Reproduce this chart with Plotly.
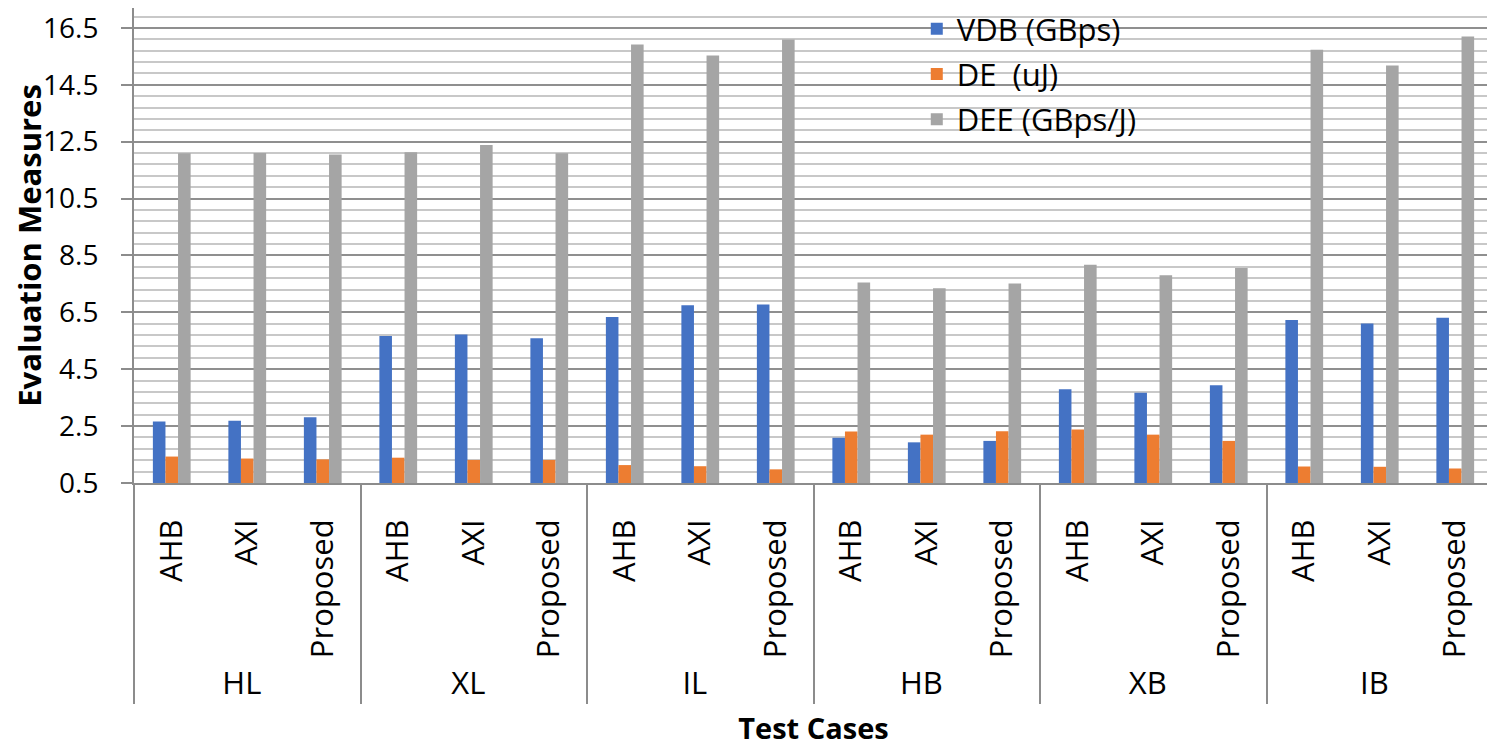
import plotly.graph_objects as go

# test cases (outer level) and bus variants (inner level)
cases = ["HL", "XL", "IL", "HB", "XB", "IB"]
buses = ["AHB", "AXI", "Proposed"]

# values, in order HL-AHB, HL-AXI, HL-Proposed, XL-AHB, ...
vdb = [2.66, 2.69, 2.81, 5.67, 5.72, 5.59, 6.34, 6.75, 6.78,
       2.09, 1.93, 1.98, 3.80, 3.67, 3.94, 6.23, 6.11, 6.31]
de = [1.43, 1.36, 1.33, 1.39, 1.31, 1.31, 1.13, 1.09, 0.98,
      2.31, 2.20, 2.32, 2.38, 2.20, 1.98, 1.08, 1.07, 1.01]
dee = [12.09, 12.10, 12.05, 12.13, 12.38, 12.09, 15.92, 15.53, 16.09,
       7.55, 7.35, 7.51, 8.17, 7.80, 8.06, 15.73, 15.18, 16.20]

series_names = ["VDB (GBps)", "DE  (uJ)", "DEE (GBps/J)"]
colors = ["#4472C4", "#ED7D31", "#A5A5A5"]

x_outer = [c for c in cases for b in buses]
x_inner = [b for c in cases for b in buses]

FONT = "Open Sans"
AXIS_GREY = "#8C8C8C"

fig = go.Figure()
for i, (name, vals) in enumerate(zip(series_names, [vdb, de, dee])):
    fig.add_trace(go.Bar(
        x=[x_outer, x_inner],
        y=vals,
        name=name,
        marker=dict(color=colors[i], line=dict(width=0)),
        legendgroup=str(i),
    ))

# the page body adds an 8px offset, so the figure is 8px smaller than the window
fig.update_layout(
    width=1487,
    height=741,
    margin=dict(l=126, r=2, t=0, b=266, autoexpand=False),
    paper_bgcolor="white",
    plot_bgcolor="white",
    barmode="group",
    bargap=0.5,
    bargroupgap=0,
    font=dict(family=FONT, size=30, color="black"),
    legend=dict(
        x=0.576, y=1.0126, xanchor="left", yanchor="top",
        bgcolor="rgba(0,0,0,0)",
        font=dict(size=31),
        tracegroupgap=2,
        itemwidth=30,
    ),
    xaxis=dict(
        type="multicategory",
        automargin=False,
        tickangle=-90,
        showline=True, linecolor=AXIS_GREY, linewidth=2,
        showgrid=False,
        ticks="",
        ticklabelstandoff=22,
        showdividers=True, dividercolor=AXIS_GREY, dividerwidth=2,
        tickfont=dict(size=31),
        title=dict(text="<b>Test Cases</b>", font=dict(size=29), standoff=17),
    ),
    yaxis=dict(
        automargin=False,
        range=[0.5, 17.2],
        tick0=0.5, dtick=2,
        tickformat=".1f",
        ticklabeloverflow="allow",
        showline=True, linecolor=AXIS_GREY, linewidth=2,
        ticks="outside", ticklen=11, tickcolor=AXIS_GREY, tickwidth=2,
        ticklabelstandoff=17,
        gridcolor="#8F8F8F", gridwidth=1.5,
        minor=dict(tick0=0.5, dtick=0.4, showgrid=True,
                   gridcolor="#C8C8C8", gridwidth=1.5),
        zeroline=False,
        tickfont=dict(size=28),
        title=dict(text="<b>Evaluation Measures</b>", font=dict(size=31), standoff=2),
    ),
)

fig.write_html("out.html")
